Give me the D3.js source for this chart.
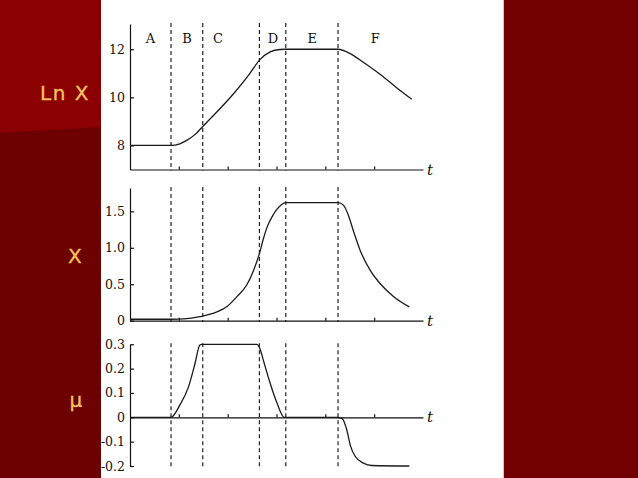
<!DOCTYPE html>
<html>
<head>
<meta charset="utf-8">
<script src="https://cdn.jsdelivr.net/npm/d3@7"></script>
<style>
  body { margin: 0; padding: 0; background: #720000; }
  svg { display: block; }
  .tick text { font-family: "DejaVu Serif", serif; font-size: 12.5px; fill: #111; }
  .domain, .tick line { stroke: #111; stroke-width: 1.2; }
  .phase { stroke: #222; stroke-width: 1.2; stroke-dasharray: 4,3; }
  .curve { fill: none; stroke: #1a1a1a; stroke-width: 1.3; }
  .letter { font-family: "DejaVu Serif", serif; font-size: 13px; fill: #111; }
  .tlabel { font-family: "DejaVu Serif", serif; font-style: italic; font-size: 15px; fill: #111; }
  .side { font-family: "DejaVu Sans", sans-serif; font-size: 20px; fill: #f6c25e; letter-spacing: 1.5px; stroke: #f6c25e; stroke-width: 0.3; }
</style>
</head>
<body>
<div id="chart"></div>
<script>
// phase boundaries and names (t units)
var phaseT = [0.84, 1.49, 2.65, 3.19, 4.26];
var phaseNames = ['A', 'B', 'C', 'D', 'E', 'F'];
var phaseNameT = [0.42, 1.17, 1.80, 2.93, 3.73, 5.02];
var tTicks = [1, 2, 3, 4, 5];

// Ln X panel
var lnXT = [0, 0.84, 1.02, 1.16, 1.33, 1.49, 2.12, 2.46, 2.65, 2.87, 3.07, 3.19, 4.26, 4.51, 4.77, 5.12, 5.46, 5.77];
var lnXVals = [8, 8, 8.07, 8.21, 8.45, 8.79, 10.15, 11.01, 11.55, 11.89, 11.99, 12, 12, 11.82, 11.47, 10.96, 10.4, 9.92];
var lnXTicks = [8, 10, 12];

// X panel
var xT = [0, 0.84, 1.1, 1.43, 1.78, 1.98, 2.19, 2.39, 2.53, 2.65, 2.73, 2.8, 2.94, 3.1, 3.19, 4.26, 4.37, 4.47, 4.58, 4.71, 4.92, 5.12, 5.4, 5.72];
var xVals = [0.02, 0.02, 0.025, 0.055, 0.12, 0.19, 0.33, 0.49, 0.69, 0.92, 1.12, 1.27, 1.46, 1.59, 1.62, 1.62, 1.585, 1.45, 1.22, 0.97, 0.69, 0.51, 0.33, 0.19];
var xTicks = [0, 0.5, 1.0, 1.5];

// mu panel
var muT = [0, 0.84, 1.02, 1.2, 1.33, 1.43, 1.47, 2.6, 2.66, 2.73, 2.87, 3.0, 3.16, 4.24, 4.34, 4.44, 4.51, 4.61, 4.78, 4.95, 5.72];
var muVals = [0, 0, 0.05, 0.126, 0.22, 0.297, 0.3, 0.3, 0.283, 0.235, 0.14, 0.064, 0, 0, -0.004, -0.052, -0.114, -0.16, -0.188, -0.198, -0.2];
var muTicks = [0.3, 0.2, 0.1, 0, -0.1, -0.2];

var sideLabels = ['Ln X', 'X', 'μ'];

var W = 638, H = 478;
var svg = d3.select('#chart').append('svg')
    .attr('width', W)
    .attr('height', H);

// slide background
svg.append('rect').attr('width', W).attr('height', H).attr('fill', '#720000');
svg.append('rect').attr('x', 0).attr('y', 0).attr('width', 101).attr('height', H).attr('fill', '#6d0000');
svg.append('path').attr('d', 'M0,0H101V127L0,133Z').attr('fill', '#8b0000');
svg.append('rect').attr('x', 101).attr('y', 0).attr('width', 402).attr('height', H).attr('fill', '#fff');
svg.append('line').attr('x1', 503.5).attr('x2', 503.5).attr('y1', 0).attr('y2', H)
    .attr('stroke', '#ccc').attr('stroke-width', 1);

var x = d3.scaleLinear().domain([0, 6]).range([130, 423]);

var panels = [
  { t: lnXT, v: lnXVals, ticks: lnXTicks, domain: [7, 13.05], range: [169.5, 24], axisAt: 7,
    fmt: function (d) { return d; }, label: sideLabels[0], lx: 65, ly: 100, letters: true },
  { t: xT, v: xVals, ticks: xTicks, domain: [0, 1.82], range: [320.7, 188], axisAt: 0,
    fmt: function (d) { return d === 0 ? '0' : d.toFixed(1); }, label: sideLabels[1], lx: 75.5, ly: 263 },
  { t: muT, v: muVals, ticks: muTicks, domain: [-0.2, 0.3], range: [466, 344.3], axisAt: 0,
    fmt: function (d) { return d === 0 ? '0' : (d < 0 ? '-' : '') + Math.abs(d).toFixed(1); }, label: sideLabels[2], lx: 76.5, ly: 407 }
];

panels.forEach(function (p) {
  var y = d3.scaleLinear().domain(p.domain).range(p.range);
  var top = p.range[1], bottom = p.range[0];
  var g = svg.append('g');

  // dashed phase boundaries
  g.selectAll('line.phase')
    .data(phaseT)
    .enter().append('line')
    .attr('class', 'phase')
    .attr('x1', function (d) { return x(d); })
    .attr('x2', function (d) { return x(d); })
    .attr('y1', top - 1)
    .attr('y2', bottom + 1);

  // y axis, ticks pointing inwards
  g.append('g')
    .attr('transform', 'translate(' + x(0) + ',0)')
    .call(d3.axisLeft(y).tickValues(p.ticks).tickSizeInner(-4).tickSizeOuter(0)
      .tickPadding(5).tickFormat(p.fmt));

  // t axis
  var ya = y(p.axisAt);
  g.append('g')
    .attr('transform', 'translate(0,' + ya + ')')
    .call(d3.axisBottom(x).tickValues(tTicks).tickSizeInner(-3).tickSizeOuter(0).tickFormat(''));
  g.append('text')
    .attr('class', 'tlabel')
    .attr('x', x(6) + 7)
    .attr('y', ya + 5)
    .attr('text-anchor', 'middle')
    .text('t');

  // curve
  var pts = p.t.map(function (d, i) { return [d, p.v[i]]; });
  var line = d3.line()
    .x(function (d) { return x(d[0]); })
    .y(function (d) { return y(d[1]); })
    .curve(d3.curveMonotoneX);
  g.append('path')
    .datum(pts)
    .attr('class', 'curve')
    .attr('d', line);

  if (p.letters) {
    g.selectAll('text.letter')
      .data(phaseNames)
      .enter().append('text')
      .attr('class', 'letter')
      .attr('x', function (d, i) { return x(phaseNameT[i]); })
      .attr('y', 43)
      .attr('text-anchor', 'middle')
      .text(function (d) { return d; });
  }

  svg.append('text')
    .attr('class', 'side')
    .attr('x', p.lx)
    .attr('y', p.ly)
    .attr('text-anchor', 'middle')
    .text(p.label);
});
</script>
</body>
</html>
